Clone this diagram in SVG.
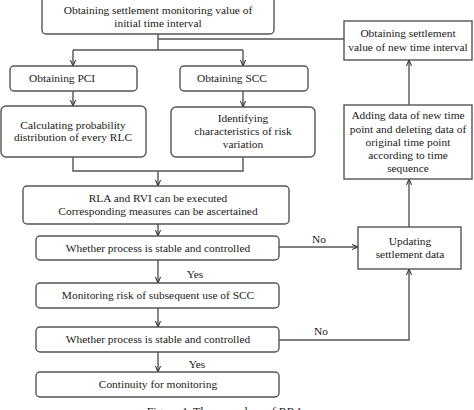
<svg xmlns="http://www.w3.org/2000/svg" width="474" height="410" viewBox="0 0 474 410">
<defs>
<marker id="ah" viewBox="0 0 8 8" refX="7" refY="4" markerWidth="7" markerHeight="7" markerUnits="userSpaceOnUse" orient="auto">
<path d="M0,1 L7,4 L0,7" fill="none" stroke="#333" stroke-width="1.2"/>
</marker>
<style>
.b{fill:#fff;stroke:#555;stroke-width:1.4}
.t{font-family:"Liberation Serif","Times New Roman",serif;font-size:11.4px;fill:#1a1a1a;text-anchor:middle}
.c{fill:none;stroke:#555;stroke-width:1.4}
</style>
</defs>
<rect width="474" height="410" fill="#fff"/>
<g id="connectors">
<path class="c" d="M158,34 V50"/>
<path class="c" d="M158,39 H344"/>
<path class="c" d="M73,50 H243"/>
<path class="c" d="M73,50 V66" marker-end="url(#ah)"/>
<path class="c" d="M243,50 V66" marker-end="url(#ah)"/>
<path class="c" d="M73,91 V106" marker-end="url(#ah)"/>
<path class="c" d="M243,91 V107" marker-end="url(#ah)"/>
<path class="c" d="M73,157 V171 H243 V157"/>
<path class="c" d="M158,171 V186" marker-end="url(#ah)"/>
<path class="c" d="M158,224 V236" marker-end="url(#ah)"/>
<path class="c" d="M158,260 V283" marker-end="url(#ah)"/>
<path class="c" d="M158,308 V327" marker-end="url(#ah)"/>
<path class="c" d="M158,352 V372" marker-end="url(#ah)"/>
<path class="c" d="M279,247 H358" marker-end="url(#ah)"/>
<path class="c" d="M279,340 H409 V269" marker-end="url(#ah)"/>
<path class="c" d="M409,227 V179" marker-end="url(#ah)"/>
<path class="c" d="M409,105 V60" marker-end="url(#ah)"/>
<text class="t" x="319" y="243">No</text>
<text class="t" x="321" y="335">No</text>
<text class="t" x="195" y="278">Yes</text>
<text class="t" x="197" y="368">Yes</text>
</g>
<g id="n-top">
<rect class="b" x="42" y="-4" width="232" height="38" rx="4"/>
<text class="t" x="158" y="14">Obtaining settlement monitoring value of</text>
<text class="t" x="158" y="27">initial time interval</text>
</g>
<g id="n-pci">
<rect class="b" x="10" y="66" width="127" height="25" rx="4"/>
<text class="t" x="29" y="82" style="text-anchor:start">Obtaining PCI</text>
</g>
<g id="n-scc">
<rect class="b" x="180" y="66" width="128" height="25" rx="4"/>
<text class="t" x="197" y="82" style="text-anchor:start">Obtaining SCC</text>
</g>
<g id="n-calc">
<rect class="b" x="1" y="106" width="145" height="51" rx="5"/>
<text class="t" x="73" y="129">Calculating probability</text>
<text class="t" x="73" y="141">distribution of every RLC</text>
</g>
<g id="n-ident">
<rect class="b" x="171" y="107" width="144" height="50" rx="5"/>
<text class="t" x="243" y="122">Identifying</text>
<text class="t" x="243" y="135">characteristics of risk</text>
<text class="t" x="243" y="148">variation</text>
</g>
<g id="n-rla">
<rect class="b" x="23" y="186" width="266" height="38" rx="4"/>
<text class="t" x="158" y="202">RLA and RVI can be executed</text>
<text class="t" x="158" y="215">Corresponding measures can be ascertained</text>
</g>
<g id="n-w1">
<rect class="b" x="36" y="236" width="243" height="24" rx="4"/>
<text class="t" x="158" y="252">Whether process is stable and controlled</text>
</g>
<g id="n-mon">
<rect class="b" x="36" y="283" width="243" height="25" rx="4"/>
<text class="t" x="158" y="299">Monitoring risk of subsequent use of SCC</text>
</g>
<g id="n-w2">
<rect class="b" x="36" y="327" width="243" height="25" rx="4"/>
<text class="t" x="158" y="343">Whether process is stable and controlled</text>
</g>
<g id="n-cont">
<rect class="b" x="36" y="372" width="243" height="25" rx="4"/>
<text class="t" x="158" y="388">Continuity for monitoring</text>
</g>
<g id="n-upd">
<rect class="b" x="358" y="227" width="103" height="42"/>
<text class="t" x="410" y="245">Updating</text>
<text class="t" x="410" y="258">settlement data</text>
</g>
<g id="n-add">
<rect class="b" x="344" y="105" width="128" height="74"/>
<text class="t" x="408" y="119">Adding data of new time</text>
<text class="t" x="408" y="133">point and deleting data of</text>
<text class="t" x="408" y="146">original time point</text>
<text class="t" x="408" y="159">according to time</text>
<text class="t" x="408" y="172">sequence</text>
</g>
<g id="n-new">
<rect class="b" x="344" y="21" width="128" height="39"/>
<text class="t" x="408" y="37">Obtaining settlement</text>
<text class="t" x="408" y="51">value of new time interval</text>
</g>
<text class="t" x="225" y="416" style="font-size:12px">Figure 4: The procedure of RRA</text>
</svg>
